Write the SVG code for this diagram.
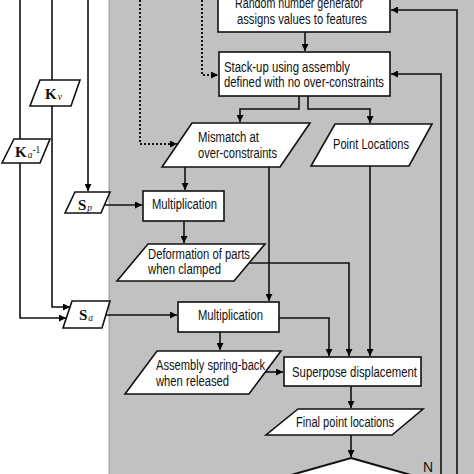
<svg xmlns="http://www.w3.org/2000/svg" width="474" height="474" viewBox="0 0 474 474">
<defs>
<marker id="ah" viewBox="0 0 10 10" refX="10" refY="5" markerWidth="7" markerHeight="7" markerUnits="userSpaceOnUse" orient="auto">
<path d="M0,0 L10,5 L0,10 z" fill="#000"/>
</marker>
<style>
.box{fill:#fff;stroke:#111;stroke-width:1.6}
.ln{fill:none;stroke:#111;stroke-width:1.6;marker-end:url(#ah)}
.ln0{fill:none;stroke:#111;stroke-width:1.6}
.dot{fill:none;stroke:#111;stroke-width:2;stroke-dasharray:2 2;marker-end:url(#ah)}
.t{font-family:"Liberation Sans",Arial,sans-serif;font-size:14px;fill:#111}
.m{font-family:"Liberation Serif","Times New Roman",serif;font-size:15px;font-weight:bold;fill:#111}
.s{font-family:"Liberation Serif","Times New Roman",serif;font-size:9.5px;font-style:italic;fill:#111}
</style>
</defs>
<rect x="0" y="0" width="474" height="474" fill="#fff"/>
<rect x="109" y="-2" width="367" height="478" fill="#c1c1c1" stroke="#8a8a8a" stroke-width="0.8"/>

<g id="connectors">
<path class="ln" d="M457,474 V10 H391"/>
<path class="ln" d="M441,474 V74 H391"/>
<path class="dot" d="M202,0 V75 H218"/>
<path class="dot" d="M140,0 V144 H177"/>
<path class="ln" d="M305,32 V51"/>
<path class="ln" d="M299,96 V109 H240 V122"/>
<path class="ln" d="M308,96 V109 H370 V123"/>
<path class="ln0" d="M52,0 V80"/>
<path class="ln" d="M52,106 V307 H70"/>
<path class="ln0" d="M20,0 V139"/>
<path class="ln" d="M20,163 V318 H66"/>
<path class="ln" d="M88,0 V191"/>
<path class="ln" d="M105,205 H142"/>
<path class="ln" d="M185,167 V190"/>
<path class="ln" d="M184,221 V243"/>
<path class="ln" d="M269,167 V301"/>
<path class="ln" d="M105,315 H177"/>
<path class="ln" d="M249,263 H349 V356"/>
<path class="ln" d="M279,318 H329 V356"/>
<path class="ln" d="M370,166 V356"/>
<path class="ln" d="M220,332 V350"/>
<path class="ln" d="M265,372 H283"/>
<path class="ln" d="M351,386 V408"/>
<path class="ln" d="M351,435 V457"/>
</g>

<g id="random">
<rect class="box" x="218" y="-12" width="172" height="44"/>
<text class="t" x="235" y="8" textLength="128" lengthAdjust="spacingAndGlyphs">Random number generator</text>
<text class="t" x="237" y="24" textLength="130" lengthAdjust="spacingAndGlyphs">assigns values to features</text>
</g>

<g id="stackup">
<rect class="box" x="219" y="52" width="171" height="44"/>
<text class="t" x="224" y="72" textLength="126" lengthAdjust="spacingAndGlyphs">Stack-up using assembly</text>
<text class="t" x="224" y="87" textLength="160" lengthAdjust="spacingAndGlyphs">defined with no over-constraints</text>
</g>

<g id="mismatch">
<polygon class="box" points="192,123 310,123 280,167 162,167"/>
<text class="t" x="198" y="142" textLength="61" lengthAdjust="spacingAndGlyphs">Mismatch at</text>
<text class="t" x="198" y="158" textLength="79" lengthAdjust="spacingAndGlyphs">over-constraints</text>
</g>

<g id="pointloc">
<polygon class="box" points="335,124 432,124 409,166 311,166"/>
<text class="t" x="333" y="149" textLength="76" lengthAdjust="spacingAndGlyphs">Point Locations</text>
</g>

<g id="kv">
<polygon class="box" points="40,80 80,80 71,106 30,106"/>
<text x="45" y="99"><tspan class="m">K</tspan><tspan class="s" dx="1" dy="1">v</tspan></text>
</g>

<g id="ka">
<polygon class="box" points="14,139 50,139 40,163 2,163"/>
<text x="15" y="157"><tspan class="m">K</tspan><tspan class="s" dx="1" dy="1">a</tspan><tspan class="s" style="font-style:normal" dy="-5">-1</tspan></text>
</g>

<g id="sp">
<polygon class="box" points="75,192 110,192 101,213 65,213"/>
<text x="78" y="210"><tspan class="m">S</tspan><tspan class="s" dx="1" dy="1">p</tspan></text>
</g>

<g id="sa">
<polygon class="box" points="72,301 110,301 102,328 63,328"/>
<text x="79" y="320"><tspan class="m">S</tspan><tspan class="s" dx="1" dy="1">a</tspan></text>
</g>

<g id="mult1">
<rect class="box" x="143" y="191" width="81" height="30"/>
<text class="t" x="152" y="209" textLength="65" lengthAdjust="spacingAndGlyphs">Multiplication</text>
</g>

<g id="deform">
<polygon class="box" points="148,244 265,244 234,281 117,281"/>
<text class="t" x="148" y="259" textLength="102" lengthAdjust="spacingAndGlyphs">Deformation of parts</text>
<text class="t" x="148" y="274" textLength="73" lengthAdjust="spacingAndGlyphs">when clamped</text>
</g>

<g id="mult2">
<rect class="box" x="178" y="302" width="101" height="30"/>
<text class="t" x="198" y="320" textLength="65" lengthAdjust="spacingAndGlyphs">Multiplication</text>
</g>

<g id="springback">
<polygon class="box" points="157,351 281,351 249,394 125,394"/>
<text class="t" x="156" y="370" textLength="109" lengthAdjust="spacingAndGlyphs">Assembly spring-back</text>
<text class="t" x="156" y="385.5" textLength="73" lengthAdjust="spacingAndGlyphs">when released</text>
</g>

<g id="superpose">
<rect class="box" x="284" y="357" width="137" height="29"/>
<text class="t" x="292" y="376.5" textLength="125" lengthAdjust="spacingAndGlyphs">Superpose displacement</text>
</g>

<g id="final">
<polygon class="box" points="298,409 423,409 392,435 266,435"/>
<text class="t" x="296" y="426.5" textLength="98" lengthAdjust="spacingAndGlyphs">Final point locations</text>
</g>

<g id="decision">
<polygon class="box" style="stroke-width:2" points="351,458 471,492 351,526 231,492"/>
<text class="t" x="423" y="472">N</text>
</g>
</svg>
